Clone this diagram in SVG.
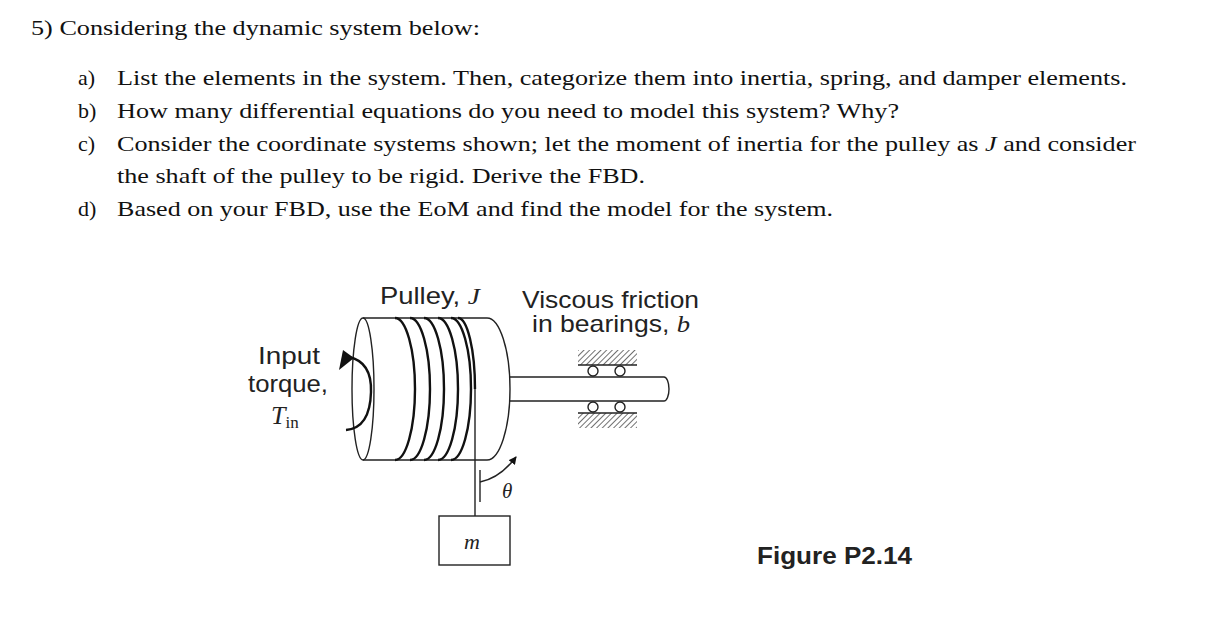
<svg xmlns="http://www.w3.org/2000/svg" width="1208" height="623" viewBox="0 0 1208 623">
<style>
.t{font-family:"Liberation Serif",serif;font-size:22px;fill:#111}
.s{font-family:"Liberation Sans",Arial,sans-serif;font-size:24px;fill:#222}
.i{font-family:"Liberation Serif",serif;font-style:italic}
.ln{fill:none;stroke:#222;stroke-width:1.4}
.th{fill:none;stroke:#111;stroke-width:2.4}
</style>
<defs>
<pattern id="h" width="4" height="4" patternUnits="userSpaceOnUse" patternTransform="rotate(45)"><line x1="0" y1="0" x2="0" y2="4" stroke="#333" stroke-width="1.4"/></pattern>
<marker id="ar" markerWidth="8" markerHeight="8" refX="7" refY="4" orient="auto" markerUnits="userSpaceOnUse"><path d="M0,0 L8,4 L0,8 z" fill="#111"/></marker>
</defs>
<rect width="1208" height="623" fill="#fff"/>
<g id="question">
<text class="t" x="31" y="35" textLength="449" lengthAdjust="spacingAndGlyphs">5) Considering the dynamic system below:</text>
<text class="t" x="78" y="85">a)</text><text class="t" x="117" y="85" textLength="1010" lengthAdjust="spacingAndGlyphs">List the elements in the system. Then, categorize them into inertia, spring, and damper elements.</text>
<text class="t" x="78" y="118">b)</text><text class="t" x="117" y="118" textLength="782" lengthAdjust="spacingAndGlyphs">How many differential equations do you need to model this system? Why?</text>
<text class="t" x="78" y="151">c)</text><text class="t" x="117" y="151" textLength="1019" lengthAdjust="spacingAndGlyphs">Consider the coordinate systems shown; let the moment of inertia for the pulley as <tspan class="i">J</tspan> and consider</text>
<text class="t" x="117" y="183" textLength="528" lengthAdjust="spacingAndGlyphs">the shaft of the pulley to be rigid. Derive the FBD.</text>
<text class="t" x="78" y="216">d)</text><text class="t" x="117" y="216" textLength="716" lengthAdjust="spacingAndGlyphs">Based on your FBD, use the EoM and find the model for the system.</text>
</g>
<g id="shaft">
<path class="ln" d="M508,377 H664 A5,12 0 0 1 664,401 H508" fill="#fff"/>
</g>
<g id="pulley">
<path d="M363,318 H487 A23,71 0 0 1 487,460 H363 Z" fill="#fff"/>
<ellipse class="ln" cx="363" cy="389" rx="11" ry="71"/>
<path class="ln" d="M363,318 H487 A23,71 0 0 1 487,460 H363"/>
<g class="th" stroke-width="2.2">
<path d="M395,318 A20,71 0 0 1 395,460"/>
<path d="M410,318 A20,71 0 0 1 410,460"/>
<path d="M424,318 A20,71 0 0 1 424,460"/>
<path d="M438,318 A20,71 0 0 1 438,460"/>
<path d="M451,318 A20,71 0 0 1 451,460"/>
<path d="M458,318 A17,71 0 0 1 475,389"/>
</g>
</g>
<g id="bearing-top">
<rect x="578" y="350" width="59" height="15" fill="url(#h)"/>
<line class="ln" x1="578" y1="365" x2="637" y2="365" stroke-width="2"/>
<circle class="ln" cx="593" cy="371" r="5"/><circle class="ln" cx="620" cy="371" r="5"/>
</g>
<g id="bearing-bottom">
<rect x="578" y="413" width="59" height="15" fill="url(#h)"/>
<line class="ln" x1="578" y1="413" x2="637" y2="413" stroke-width="2"/>
<circle class="ln" cx="593" cy="407" r="5"/><circle class="ln" cx="620" cy="407" r="5"/>
</g>
<g id="mass">
<rect class="ln" x="439" y="516" width="71" height="49" stroke-width="2"/>
<text class="i" x="464" y="549" font-size="22" fill="#222">m</text>
</g>
<g id="connectors">
<line class="ln" x1="475" y1="389" x2="475" y2="516" stroke-width="2"/>
<line class="ln" x1="480" y1="470" x2="480" y2="502"/>
<path class="ln" d="M480,482 Q500,478 516,457" marker-end="url(#ar)"/>
<path class="th" d="M349,357 Q372,362 371,392 Q370,428 346,430"/>
<path d="M339,370 L343,350 L354,358 Z" fill="#111"/>
</g>
<g id="labels">
<text class="s" x="380" y="304" textLength="100" lengthAdjust="spacingAndGlyphs">Pulley, <tspan class="i">J</tspan></text>
<text class="s" x="522" y="308" textLength="177" lengthAdjust="spacingAndGlyphs">Viscous friction</text>
<text class="s" x="532" y="332" textLength="158" lengthAdjust="spacingAndGlyphs">in bearings, <tspan class="i">b</tspan></text>
<text class="s" x="258" y="364" textLength="62" lengthAdjust="spacingAndGlyphs">Input</text>
<text class="s" x="248" y="392" textLength="80" lengthAdjust="spacingAndGlyphs">torque,</text>
<text class="i" x="271" y="424" font-size="26" fill="#222">T<tspan font-size="17" font-style="normal" dy="4">in</tspan></text>
<text class="i" x="502" y="498" font-size="21" fill="#222">θ</text>
<text class="s" x="757" y="564" font-weight="bold" textLength="155" lengthAdjust="spacingAndGlyphs">Figure P2.14</text>
</g>
</svg>
